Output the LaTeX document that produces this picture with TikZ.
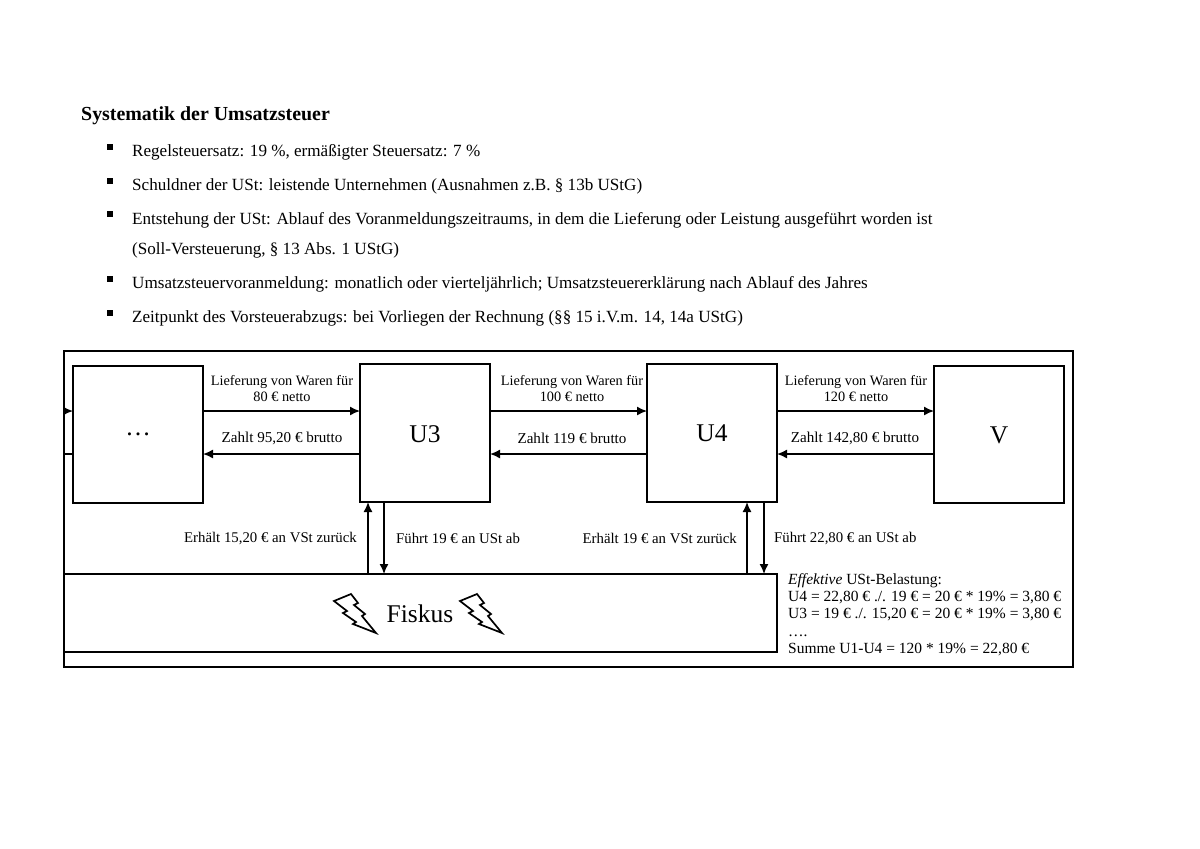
\documentclass[tikz,border=0pt]{standalone}
\usepackage{fontspec}
\usetikzlibrary{arrows.meta}
\setmainfont{Liberation Serif}
\begin{document}
\begin{tikzpicture}[x=1pt,y=-1pt,
  box/.style={draw=black,line width=1.5pt,fill=white,inner sep=0pt,outer sep=0pt,anchor=north west},
  flow/.style={draw=black,line width=1.5pt,-{Latex[length=10pt,width=9pt]}},
  plain/.style={draw=black,line width=1.5pt},
  lbl/.style={inner sep=0pt,font=\fontsize{14.3}{16}\selectfont,align=center},
  pay/.style={inner sep=0pt,font=\fontsize{15.1}{17}\selectfont,align=center},
  tax/.style={inner sep=0pt,font=\fontsize{14.8}{17}\selectfont,align=center},
  body/.style={inner sep=0pt,anchor=base west,font=\fontsize{17.1}{20}\selectfont},
  bul/.style={fill=black,draw=none,minimum size=6pt,inner sep=0pt},
  big/.style={inner sep=0pt,font=\fontsize{25.5}{30}\selectfont},
  bolt/.style={draw=black,line width=1.7pt,fill=white,line join=miter}]
\useasboundingbox (0,0) rectangle (1200,849);
\fill[white] (0,0) rectangle (1200,849);
\node[body,font=\fontsize{19.9}{23}\selectfont\bfseries] (title) at (81,120) {Systematik der Umsatzsteuer};
\node[bul] (b1) at (110,147) {};
\node[bul] (b2) at (110,181) {};
\node[bul] (b3) at (110,214) {};
\node[bul] (b4) at (110,279) {};
\node[bul] (b5) at (110,313) {};
\node[body] (t1) at (132,156) {Regelsteuersatz: 19 \%, ermäßigter Steuersatz: 7 \%};
\node[body] (t2) at (132,190) {Schuldner der USt: leistende Unternehmen (Ausnahmen z.B. § 13b UStG)};
\node[body] (t3) at (132,224) {Entstehung der USt: Ablauf des Voranmeldungszeitraums, in dem die Lieferung oder Leistung ausgeführt worden ist};
\node[body] (t3b) at (132,254) {(Soll-Versteuerung, § 13 Abs. 1 UStG)};
\node[body] (t4) at (132,288) {Umsatzsteuervoranmeldung: monatlich oder vierteljährlich; Umsatzsteuererklärung nach Ablauf des Jahres};
\node[body] (t5) at (132,322) {Zeitpunkt des Vorsteuerabzugs: bei Vorliegen der Rechnung (§§ 15 i.V.m. 14, 14a UStG)};
\node[box,minimum width=1009pt,minimum height=316pt] (outer) at (64,351) {};
\node[box,minimum width=713pt,minimum height=78pt] (fiskus) at (64,574) {};
\node[box,minimum width=130pt,minimum height=137pt] (dots) at (73,366) {};
\node[box,minimum width=130pt,minimum height=138pt] (u3) at (360,364) {};
\node[box,minimum width=130pt,minimum height=138pt] (u4) at (647,364) {};
\node[box,minimum width=130pt,minimum height=137pt] (v) at (934,366) {};
\node[big] at (138,434) {\dots};
\node[big] at (425,434) {U3};
\node[big] at (712,433) {U4};
\node[big] at (999,435) {V};
\node[big] (fk) at (420,614) {Fiskus};
\coordinate (la) at (64,411); \coordinate (lb) at (64,454);
\draw[flow] (la) -- (la -| dots.west);
\draw[plain] (lb) -- (lb -| dots.west);
\coordinate (r1) at (0,411); \coordinate (r2) at (0,454);
\draw[flow] (r1 -| dots.east) -- (r1 -| u3.west);
\draw[flow] (r2 -| u3.west) -- (r2 -| dots.east);
\draw[flow] (r1 -| u3.east) -- (r1 -| u4.west);
\draw[flow] (r2 -| u4.west) -- (r2 -| u3.east);
\draw[flow] (r1 -| u4.east) -- (r1 -| v.west);
\draw[flow] (r2 -| v.west) -- (r2 -| u4.east);
\coordinate (c1) at (368,0); \coordinate (c2) at (384,0); \coordinate (c3) at (747,0); \coordinate (c4) at (764,0);
\draw[flow] (c1 |- fiskus.north) -- (c1 |- u3.south);
\draw[flow] (c2 |- u3.south) -- (c2 |- fiskus.north);
\draw[flow] (c3 |- fiskus.north) -- (c3 |- u4.south);
\draw[flow] (c4 |- u4.south) -- (c4 |- fiskus.north);
\node[lbl] at (282,389) {Lieferung von Waren für\\80 € netto};
\node[lbl] at (572,389) {Lieferung von Waren für\\100 € netto};
\node[lbl] at (856,389) {Lieferung von Waren für\\120 € netto};
\node[pay] at (282,438) {Zahlt 95,20 € brutto};
\node[pay] at (572,438) {Zahlt 119 € brutto};
\node[pay] at (855,438) {Zahlt 142,80 € brutto};
\node[tax,anchor=east] at (357,538) {Erhält 15,20 € an VSt zurück};
\node[tax,anchor=west] at (396,538) {Führt 19 € an USt ab};
\node[tax,anchor=east] at (737,538) {Erhält 19 € an VSt zurück};
\node[tax,anchor=west] at (774,538) {Führt 22,80 € an USt ab};
\node[inner sep=0pt,anchor=north west,align=left,font=\fontsize{15.5}{17.4}\selectfont] (eff) at (788,573) {\textit{Effektive} USt-Belastung:\\U4 = 22,80 € ./. 19 € = 20 € * 19\% = 3,80 €\\U3 = 19 € ./. 15,20 € = 20 € * 19\% = 3,80 €\\….\\Summe U1-U4 = 120 * 19\% = 22,80 €};
\draw[bolt] (351,594) -- (334,601) -- (347,611) -- (343,613) -- (356,622) -- (353,624) -- (376,633) -- (362,616) -- (365,614) -- (354,605) -- (358,603) -- cycle;
\draw[bolt] (477,594) -- (460,601) -- (473,611) -- (469,613) -- (482,622) -- (479,624) -- (502,633) -- (488,616) -- (491,614) -- (480,605) -- (484,603) -- cycle;
\end{tikzpicture}
\end{document}
